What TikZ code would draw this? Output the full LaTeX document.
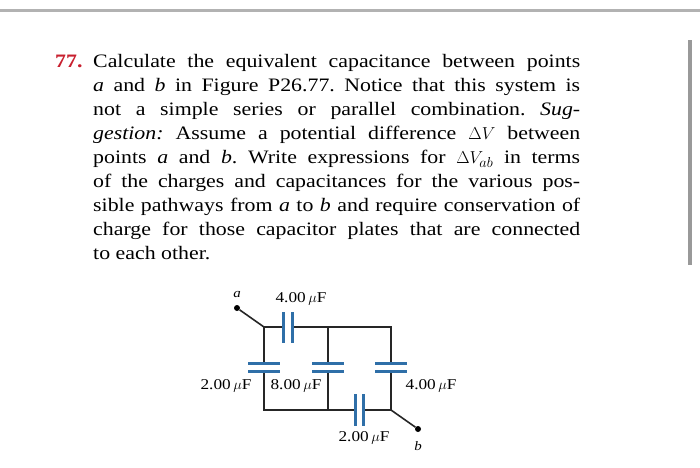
\documentclass[tikz,border=0pt]{standalone}
\usepackage{fontspec}
\setmainfont{Liberation Serif}[FakeStretch=1.15]
\frenchspacing
\definecolor{capblue}{HTML}{2F6FA8}
\definecolor{numred}{HTML}{C8202F}
\begin{document}
\begin{tikzpicture}[x=1pt,y=-1pt,
  wire/.style={line width=1.6pt,black!85},
  plate/.style={line width=3pt,capblue},
  lbl/.style={font=\fontsize{15}{16}\selectfont,inner sep=0pt},
  dot/.style={circle,fill=black,inner sep=0pt,minimum size=6pt}]
\useasboundingbox (0,0) rectangle (700,467);
\fill[white] (0,0) rectangle (700,467);
\draw[line width=3pt,gray!60] (0,10) -- (700,10);
\draw[line width=4pt,gray!80] (690,40) -- (690,265);
\node[anchor=base west,inner sep=0pt,text=numred,font=\fontsize{19}{24}\selectfont\bfseries] (num) at (55,67) {77.};
\node[anchor=base west,inner sep=0pt,font=\fontsize{19}{24.1}\selectfont] (txt) at (93,67) {\parbox[t]{487pt}{\fontsize{19}{24.1}\selectfont
Calculate the equivalent capacitance between points\linebreak
\emph{a} and \emph{b} in Figure P26.77. Notice that this system is\linebreak
not a simple series or parallel combination. \emph{Sug-}\linebreak
\emph{gestion:} Assume a potential difference $\Delta V$ between\linebreak
points \emph{a} and \emph{b}. Write expressions for $\Delta V_{ab}$ in terms\linebreak
of the charges and capacitances for the various pos-\linebreak
sible pathways from \emph{a} to \emph{b} and require conservation of\linebreak
charge for those capacitor plates that are connected\linebreak
to each other.}};
% circuit
\node[dot] (a) at (237,308) {};
\node[dot] (b) at (418,429) {};
\coordinate (tl) at (264,327); \coordinate (tm) at (328,327); \coordinate (tr) at (391,327);
\coordinate (bl) at (264,410); \coordinate (bm) at (328,410); \coordinate (br) at (391,410);
\draw[wire] (a) -- (tl) -- (283,327);
\draw[wire] (292,327) -- (tr) -- (391,363);
\draw[wire] (391,371) -- (br) -- (363,410);
\draw[wire] (355,410) -- (bl) -- (264,371);
\draw[wire] (264,363) -- (tl);
\draw[wire] (tm) -- (328,363); \draw[wire] (328,371) -- (bm);
\draw[wire] (br) -- (b);
\draw[plate] (283,312) -- (283,343); \draw[plate] (292,312) -- (292,343);
\foreach \x in {264,328,391}{
  \draw[plate] (\x-16,363) -- (\x+16,363); \draw[plate] (\x-16,371) -- (\x+16,371);}
\draw[plate] (355,394) -- (355,426); \draw[plate] (363,394) -- (363,426);
\node[lbl,font=\fontsize{13}{14}\selectfont\itshape] (la) at (237,294) {a};
\node[lbl] (l1) at (301,299) {4.00\,$\mu$F};
\node[lbl] (l2) at (226,386) {2.00\,$\mu$F};
\node[lbl] (l3) at (296,386) {8.00\,$\mu$F};
\node[lbl] (l4) at (431,386) {4.00\,$\mu$F};
\node[lbl] (l5) at (364,438) {2.00\,$\mu$F};
\node[lbl,font=\fontsize{13}{14}\selectfont\itshape] (lb) at (418,446) {b};
\end{tikzpicture}
\end{document}
